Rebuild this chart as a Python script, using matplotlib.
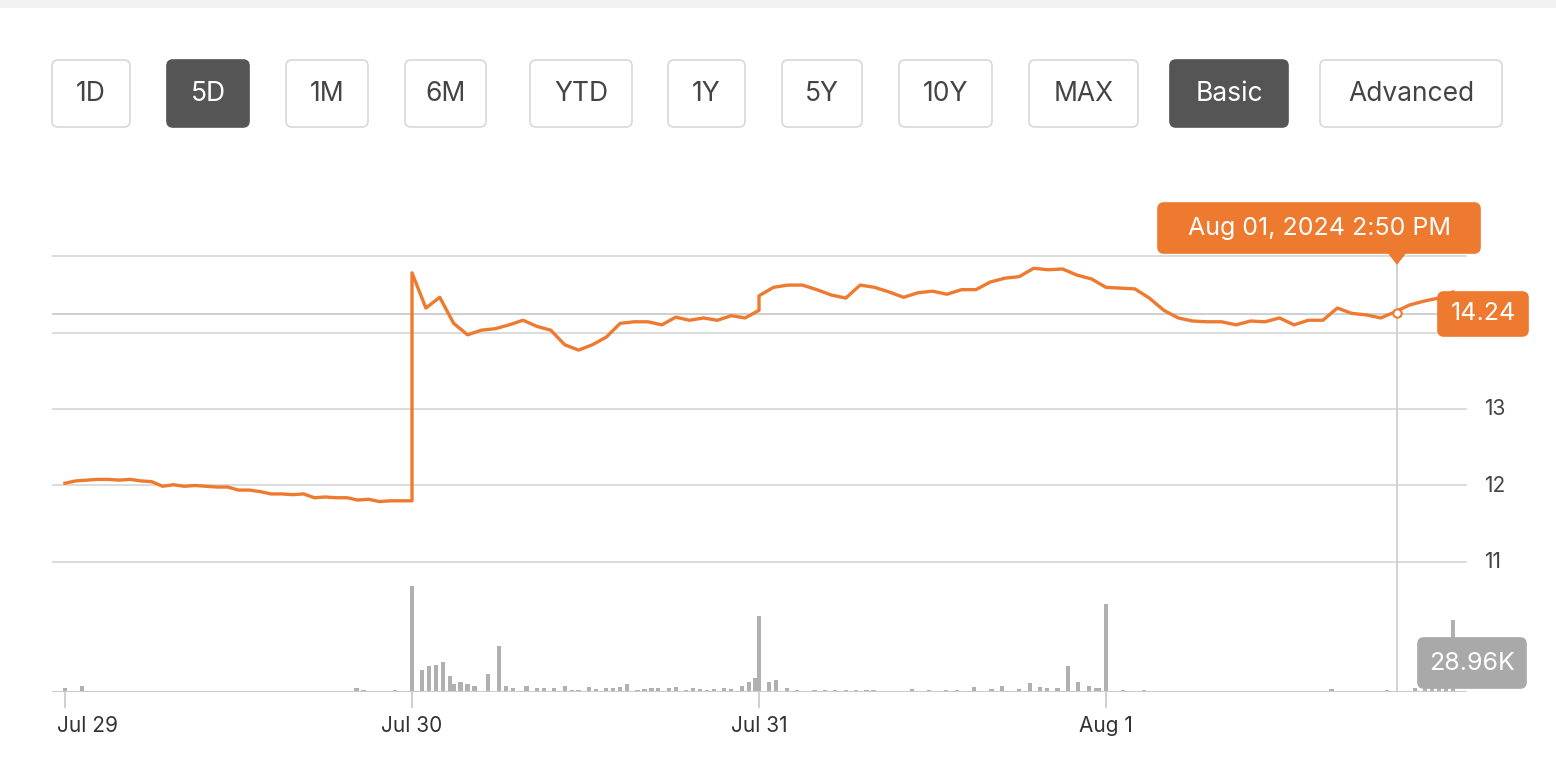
import matplotlib.pyplot as plt
from matplotlib.patches import FancyBboxPatch, Polygon
import numpy as np

W, H = 1556, 782
orange = '#EE7A30'

day_labels = ['Jul 29', 'Jul 30', 'Jul 31', 'Aug 1']
price_jul29 = [12.03, 12.06, 12.07, 12.08, 12.08, 12.07, 12.08, 12.06, 12.05, 11.99, 12.01,
               11.99, 12.00, 11.99, 11.98, 11.98, 11.94, 11.94, 11.92, 11.89, 11.89, 11.88,
               11.89, 11.84, 11.85, 11.84, 11.84, 11.81, 11.82, 11.79, 11.80, 11.80, 11.80]
price_jul30 = [14.78, 14.32, 14.46, 14.12, 13.97, 14.03, 14.05, 14.10, 14.16, 14.08, 14.03,
               13.84, 13.77, 13.84, 13.94, 14.12, 14.14, 14.14, 14.10, 14.20, 14.16, 14.19,
               14.16, 14.22, 14.19, 14.29]
price_jul31 = [14.48, 14.59, 14.62, 14.62, 14.56, 14.49, 14.45, 14.62, 14.59, 14.53, 14.46,
               14.52, 14.54, 14.50, 14.56, 14.56, 14.66, 14.71, 14.73, 14.84, 14.82, 14.83,
               14.75, 14.70, 14.59]
price_aug1 = [14.59, 14.58, 14.57, 14.45, 14.29, 14.19, 14.15, 14.14, 14.14, 14.10, 14.15,
              14.14, 14.19, 14.10, 14.16, 14.16, 14.32, 14.25, 14.23, 14.19, 14.27, 14.36,
              14.41, 14.45, 14.53]

vol_t = [0, 0.05, 0.84, 0.86, 0.95,
         1.0, 1.03, 1.05, 1.07, 1.09, 1.11, 1.12, 1.14, 1.16, 1.18, 1.22, 1.25, 1.27, 1.29,
         1.33, 1.36, 1.38, 1.41, 1.44, 1.46, 1.48, 1.51, 1.53, 1.56, 1.58, 1.60, 1.62, 1.65,
         1.67, 1.69, 1.71, 1.74, 1.76, 1.79, 1.81, 1.83, 1.85, 1.87, 1.90, 1.92, 1.95, 1.97, 1.99,
         2.0, 2.03, 2.05, 2.08, 2.11, 2.16, 2.19, 2.22, 2.25, 2.28, 2.31, 2.33, 2.44, 2.49,
         2.54, 2.57, 2.62, 2.67, 2.70, 2.75, 2.78, 2.81, 2.83, 2.86, 2.89, 2.92, 2.95, 2.97, 2.98,
         3.0, 3.05, 3.11, 3.65, 3.81, 3.89, 3.92, 3.94, 3.96, 3.98, 4.0]
vol_k = [1.6, 2.4, 1.6, 0.8, 0.8,
         42.4, 8.8, 10.4, 10.8, 12.0, 6.4, 3.2, 4.0, 3.2, 2.4, 7.2, 18.4, 2.4, 1.6,
         2.4, 1.6, 1.6, 1.6, 2.4, 0.8, 0.8, 2.0, 1.2, 1.6, 1.6, 2.0, 3.2, 0.8,
         1.2, 1.6, 1.6, 1.6, 2.0, 0.8, 1.6, 1.2, 0.8, 1.2, 1.6, 1.2, 2.4, 4.0, 5.6,
         30.4, 4.0, 4.8, 1.6, 0.8, 0.8, 0.8, 0.8, 0.8, 0.8, 0.8, 0.8, 1.2, 0.8,
         0.8, 0.8, 2.0, 1.2, 2.4, 1.2, 3.6, 2.0, 1.6, 1.6, 10.4, 4.0, 2.4, 1.6, 1.6,
         35.2, 0.8, 0.8, 1.2, 0.8, 1.6, 1.6, 1.6, 1.6, 1.6, 28.8]

buttons = ['1D', '5D', '1M', '6M', 'YTD', '1Y', '5Y', '10Y', 'MAX', 'Basic', 'Advanced']
active = ['5D', 'Basic']

plt.rcParams['font.family'] = ['Inter', 'DejaVu Sans']
fig = plt.figure(figsize=(W / 100, H / 100), dpi=100)


def fx(x):
    return x / W


def fy(y):
    return 1 - y / H


# price axes spanning pixels x 52..1467, y 200..692
ax = fig.add_axes([fx(52), fy(692), fx(1467) - fx(52), fy(200) - fy(692)])
axv = ax.twinx()
x0 = -13 / 347
ax.set_xlim(x0, x0 + 1415 / 347)
ax.set_ylim(13 - 283 / 76.5, 13 + 209 / 76.5)
axv.set_ylim(0, 196.8)
for a in (ax, axv):
    for s in a.spines.values():
        s.set_visible(False)
    a.set_yticks([])
ax.set_xticks([])
ax.set_zorder(axv.get_zorder() + 1)
ax.patch.set_visible(False)

for g in [11, 12, 13, 14, 15]:
    ax.axhline(g, color='#d9d9d9', lw=1.3, zorder=0)
for g in [11, 12, 13]:
    ax.text(1.012, g, str(g), transform=ax.get_yaxis_transform(), va='center', ha='left',
            fontsize=15, color='#444444')
ax.axhline(14.24, color='#cccccc', lw=1.3, zorder=0)

days = [price_jul29, price_jul30, price_jul31, price_aug1]
xs, ys = [], []
for d, vals in enumerate(days):
    xs += list(d + np.linspace(0, 1, len(vals)))
    ys += vals
ax.plot(xs, ys, color=orange, lw=2.4, zorder=3, solid_joinstyle='round')

axv.bar(vol_t, vol_k, width=0.012, color='#b0b0b0')
axv.axhline(0, color='#cccccc', lw=1.5)

for d, lab in enumerate(day_labels):
    axv.plot([d, d], [0, -6], color='#cccccc', lw=1.3, clip_on=False)
    ax.text(d + (0.066 if d == 0 else 0), -0.07, lab, transform=ax.get_xaxis_transform(),
            ha='center', va='center', fontsize=15, color='#333333')

# cursor
ax.plot([3.84, 3.84], [13 - 283 / 76.5, 13 + (409 - 265) / 76.5], color='#cfcfcf', lw=1.3, zorder=2)
ax.plot([3.84], [14.25], marker='o', ms=6, mfc='white', mec=orange, mew=1.5, zorder=4)


def box(x1, y1, x2, y2, fc, ec, r=6):
    fig.patches.append(FancyBboxPatch((fx(x1), fy(y2)), fx(x2) - fx(x1), fy(y1) - fy(y2),
                                      boxstyle=f'round,pad=0,rounding_size={r / W}',
                                      transform=fig.transFigure, fc=fc, ec=ec, lw=1.2,
                                      mutation_aspect=W / H))


# top bar
fig.patches.append(plt.Rectangle((0, fy(8)), 1, 8 / H, transform=fig.transFigure,
                                 fc='#f4f1f1', ec='none'))

bx = [(52, 130), (167, 249), (286, 368), (405, 486), (530, 632), (668, 745), (782, 862),
      (899, 992), (1029, 1138), (1170, 1288), (1320, 1502)]
for lab, (a, b) in zip(buttons, bx):
    on = lab in active
    box(a, 60, b, 127, '#555555' if on else 'white', '#555555' if on else '#d8d8d8')
    fig.text(fx((a + b) / 2), fy(94), lab, ha='center', va='center', fontsize=19,
             color='white' if on else '#444444')

box(1158, 203, 1480, 253, orange, orange)
fig.patches.append(Polygon([(fx(1387), fy(252)), (fx(1407), fy(252)), (fx(1397), fy(265))],
                           closed=True, transform=fig.transFigure, fc=orange, ec='none'))
fig.text(fx(1319), fy(229), 'Aug 01, 2024 2:50 PM', ha='center', va='center', fontsize=18,
         color='white')
box(1438, 292, 1528, 336, orange, orange)
fig.text(fx(1483), fy(314), '14.24', ha='center', va='center', fontsize=18, color='white')
box(1418, 638, 1526, 688, '#a9a9a9', '#a9a9a9')
fig.text(fx(1472), fy(664), '28.96K', ha='center', va='center', fontsize=18, color='white')

fig.savefig('out.png', dpi=100)
